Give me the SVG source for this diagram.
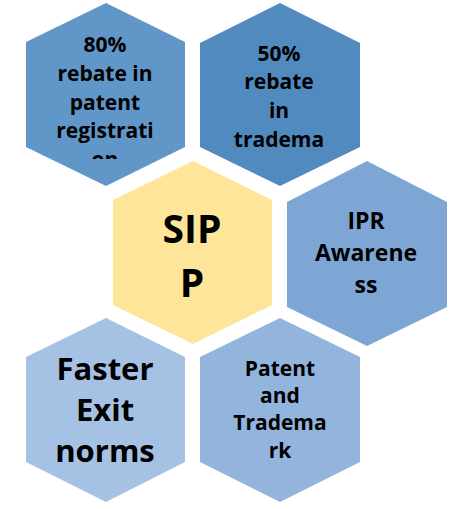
<svg xmlns="http://www.w3.org/2000/svg" width="452" height="509" viewBox="0 0 452 509">
<defs>
<clipPath id="clip1"><rect x="26" y="20" width="160" height="139"/></clipPath>
</defs>
<style>
text{font-family:"Open Sans","Liberation Sans",sans-serif;font-weight:bold;fill:#000;text-anchor:middle}
</style>
<rect width="452" height="509" fill="#fff"/>
<g id="n-rebate-patent">
<polygon points="106,3 185,42 185,147 106,186 26,147 26,42" fill="#6096C8"/>
<g clip-path="url(#clip1)" font-size="21">
<text x="105" y="52">80%</text>
<text x="105" y="81">rebate in</text>
<text x="105" y="110">patent</text>
<text x="105" y="138">registrati</text>
<text x="105" y="167">on</text>
</g>
</g>
<g id="n-rebate-trademark">
<polygon points="280,3 360,43 360,147 280,186 200,147 200,43" fill="#508ABF"/>
<g font-size="21">
<text x="279" y="61">50%</text>
<text x="279" y="89">rebate</text>
<text x="279" y="118">in</text>
<text x="279" y="147">tradema</text>
</g>
</g>
<g id="n-sipp">
<polygon points="193,161 272,200 272,305 193,344 113,305 113,200" fill="#FFE599"/>
<g font-size="39">
<text x="192" y="243">SIP</text>
<text x="192" y="297">P</text>
</g>
</g>
<g id="n-ipr">
<polygon points="367,161 447,202 447,307 367,346 287,307 287,202" fill="#7EA6D4"/>
<g font-size="23">
<text x="366" y="229">IPR</text>
<text x="366" y="261">Awarene</text>
<text x="366" y="293">ss</text>
</g>
</g>
<g id="n-faster">
<polygon points="106,318 185,357 185,462 106,502 26,462 26,357" fill="#A5C2E4"/>
<g font-size="31">
<text x="105" y="380">Faster</text>
<text x="105" y="421">Exit</text>
<text x="105" y="462">norms</text>
</g>
</g>
<g id="n-patent-trademark">
<polygon points="280,318 360,357 360,462 280,502 200,462 200,357" fill="#92B4DD"/>
<g font-size="21">
<text x="280" y="376">Patent</text>
<text x="280" y="403">and</text>
<text x="280" y="430">Tradema</text>
<text x="280" y="458">rk</text>
</g>
</g>
<g id="connectors"/>
</svg>
